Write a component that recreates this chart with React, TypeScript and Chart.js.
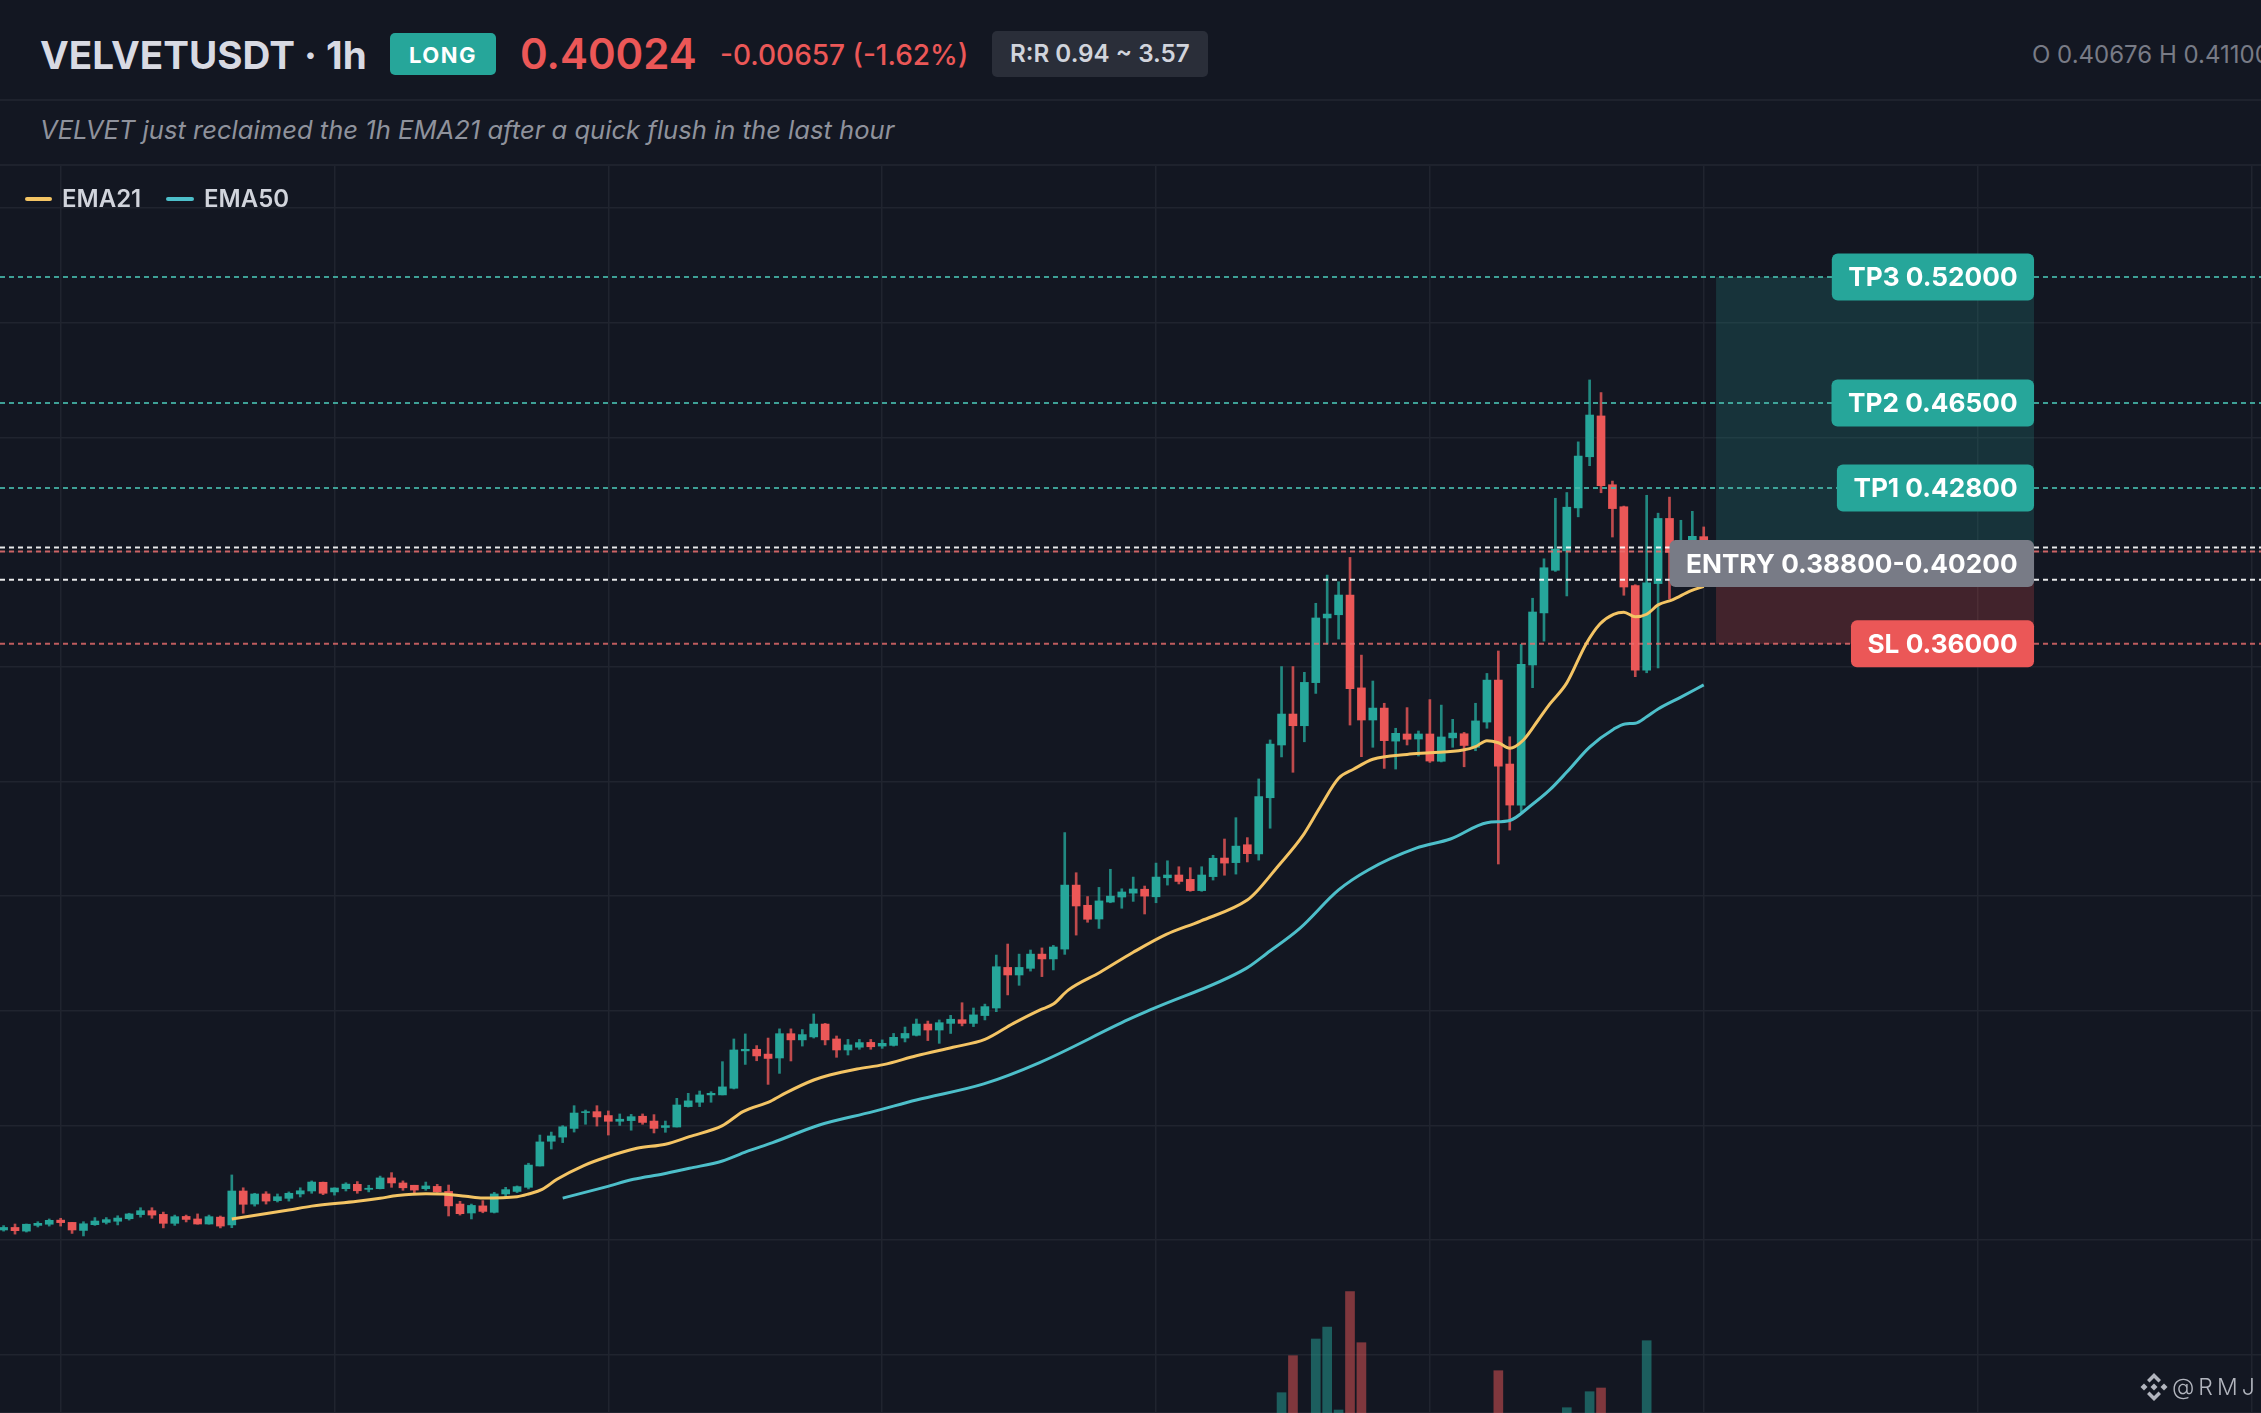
import React, { useEffect, useRef } from "react";
import { Chart, registerables } from "chart.js";

Chart.register(...registerables);

const opens = [
  .1044,.1055,.1039,.1064,.1069,.1087,.1077,.1042,.1067,.1077,
  .1082,.1093,.1111,.1128,.1112,.1073,.1103,.1092,.1070,.1100,
  .1066,.1214,.1157,.1201,.1172,.1182,.1201,.1214,.1252,.1210,
  .1224,.1243,.1221,.1224,.1271,.1249,.1239,.1224,.1234,.1212,
  .1157,.1118,.1149,.1121,.1201,.1212,.1230,.1323,.1431,.1449,
  .1487,.1556,.1560,.1543,.1518,.1521,.1540,.1519,.1491,.1493,
  .1582,.1601,.1633,.1633,.1662,.1825,.1832,.1811,.1794,.1900,
  .1873,.1886,.1942,.1877,.1829,.1841,.1862,.1846,.1849,.1881,
  .1893,.1942,.1916,.1945,.1961,.1945,.1979,.2012,.2189,.2156,
  .2185,.2247,.2226,.2269,.2548,.2460,.2400,.2474,.2496,.2513,
  .2530,.2497,.2580,.2592,.2573,.2524,.2585,.2666,.2646,.2724,
  .2684,.2929,.3159,.3294,.3243,.3431,.3713,.3727,.3813,.3408,
  .3268,.3320,.3176,.3207,.3185,.3207,.3088,.3190,.3208,.3149,
  .3259,.3442,.3076,.2897,.3508,.3735,.3921,.4006,.4193,.4416,
  .4594,.4294,.4198,.3854,.3485,.3863,.4147,.3960,.4020,.40676,
];
const closes = [
  .1055,.1041,.1069,.1073,.1086,.1076,.1044,.1071,.1083,.1089,
  .1096,.1114,.1128,.1109,.1073,.1102,.1090,.1070,.1102,.1061,
  .1214,.1156,.1201,.1170,.1189,.1204,.1215,.1253,.1204,.1227,
  .1244,.1215,.1226,.1271,.1249,.1228,.1218,.1236,.1210,.1149,
  .1115,.1151,.1125,.1201,.1220,.1233,.1327,.1428,.1454,.1494,
  .1554,.1560,.1537,.1518,.1527,.1538,.1513,.1487,.1499,.1589,
  .1607,.1633,.1640,.1668,.1829,.1832,.1803,.1792,.1900,.1873,
  .1896,.1942,.1873,.1829,.1851,.1861,.1843,.1858,.1884,.1901,
  .1942,.1916,.1948,.1963,.1945,.1982,.2018,.2192,.2156,.2189,
  .2247,.2226,.2278,.2548,.2457,.2399,.2479,.2500,.2518,.2531,
  .2500,.2583,.2592,.2564,.2524,.2592,.2665,.2644,.2718,.2685,
  .2934,.3163,.3294,.3243,.3432,.3713,.3730,.3813,.3405,.3268,
  .3320,.3178,.3210,.3184,.3207,.3089,.3194,.3211,.3157,.3264,
  .3442,.3067,.2897,.3511,.3739,.3932,.4013,.4196,.4419,.4598,
  .4290,.4190,.3848,.3485,.3866,.4147,.3999,.4040,.4069,.40024,
];
const highs = [
  .1063,.1070,.1070,.1080,.1092,.1095,.1077,.1080,.1098,.1098,
  .1106,.1117,.1141,.1141,.1122,.1109,.1109,.1114,.1109,.1105,
  .1284,.1228,.1204,.1211,.1201,.1210,.1228,.1258,.1253,.1228,
  .1250,.1255,.1239,.1279,.1294,.1258,.1239,.1253,.1243,.1240,
  .1169,.1157,.1172,.1208,.1230,.1236,.1335,.1458,.1471,.1499,
  .1586,.1567,.1586,.1563,.1550,.1548,.1550,.1547,.1519,.1618,
  .1640,.1650,.1647,.1778,.1877,.1899,.1848,.1881,.1921,.1921,
  .1918,.1986,.1945,.1890,.1875,.1875,.1875,.1873,.1901,.1929,
  .1964,.1955,.1960,.1980,.2035,.2012,.2029,.2243,.2291,.2247,
  .2265,.2274,.2285,.2777,.2602,.2498,.2538,.2617,.2532,.2583,
  .2544,.2644,.2654,.2628,.2624,.2628,.2678,.2749,.2842,.2755,
  .3011,.3181,.3501,.3501,.3476,.3777,.3900,.3871,.3977,.3551,
  .3438,.3341,.3232,.3322,.3220,.3357,.3333,.3271,.3214,.3341,
  .3471,.3569,.3195,.3598,.3799,.3971,.4235,.4260,.4481,.4751,
  .4696,.4310,.4201,.3858,.4248,.4170,.4240,.4139,.4178,.41100,
];
const lows = [
  .1039,.1026,.1035,.1057,.1061,.1061,.1029,.1018,.1064,.1070,
  .1066,.1087,.1100,.1095,.1053,.1064,.1079,.1069,.1069,.1053,
  .1054,.1117,.1148,.1157,.1166,.1170,.1188,.1204,.1198,.1196,
  .1214,.1204,.1210,.1223,.1230,.1217,.1202,.1217,.1208,.1105,
  .1109,.1092,.1119,.1118,.1189,.1207,.1223,.1323,.1397,.1425,
  .1471,.1505,.1497,.1458,.1500,.1479,.1505,.1467,.1470,.1493,
  .1580,.1582,.1601,.1633,.1659,.1766,.1782,.1679,.1727,.1781,
  .1846,.1881,.1851,.1797,.1807,.1832,.1832,.1836,.1846,.1864,
  .1890,.1870,.1858,.1901,.1934,.1931,.1960,.1996,.2069,.2111,
  .2173,.2149,.2178,.2246,.2330,.2386,.2359,.2471,.2447,.2477,
  .2422,.2471,.2548,.2553,.2521,.2521,.2570,.2591,.2596,.2649,
  .2657,.2796,.3107,.3040,.3173,.3384,.3599,.3621,.3246,.3108,
  .3149,.3057,.3054,.3159,.3111,.3083,.3085,.3149,.3064,.3134,
  .3232,.2640,.2788,.2868,.3409,.3612,.3916,.3809,.4154,.4377,
  .4259,.4066,.3812,.3457,.3474,.3495,.3796,.3900,.3950,.39800,
];

const ema21Idx = [20,25,27,31,33,34.5,37,38.5,40.5,42,45,46,47.2,48.5,50.8,52.8,55.5,58,60.1,63,64.8,67.2,68.6,71,72.4,74.8,77.1,80,83.2,86,88.5,90.8,92,93.3,96.1,99,101.9,104.9,109,109.8,111.6,113.8,115.4,117,118.3,120,123,125,127.9,129,130,131,132,133.2,134.5,135.5,137,138.7,139.9,141.1,142,143,144,145,146.3,147.8,149];
const ema21Vals = [.1092,.1131,.1148,.1169,.1182,.1194,.1202,.1201,.1191,.1183,.1189,.1201,.1221,.1265,.1324,.1361,.1400,.1418,.1451,.1499,.1560,.1605,.1643,.1698,.1720,.1746,.1765,.1804,.1841,.1875,.1945,.2003,.2029,.2090,.2168,.2255,.2333,.2391,.2483,.2519,.2625,.2759,.2890,.3014,.3053,.3097,.3118,.3125,.3137,.3152,.3178,.3169,.3145,.3181,.3268,.3337,.3430,.3601,.3687,.3729,.3738,.3718,.3729,.3770,.3793,.3830,.3851];
const ema50Idx = [49,52.8,55.2,57.8,60.1,63,65.1,67.4,71.5,76.2,80,85.9,90.8,98.6,100.8,108.9,110.7,113.6,117,119.6,123.8,126.8,130,132,133.8,135.5,137,139,141.1,142.1,143,144,145,147,149];
const ema50Vals = [.1183,.1232,.1265,.1288,.1313,.1345,.1386,.1425,.1502,.1560,.1611,.1681,.1774,.1962,.2010,.2185,.2250,.2359,.2527,.2614,.2709,.2749,.2820,.2830,.2893,.2963,.3041,.3150,.3228,.3251,.3254,.3282,.3316,.3368,.3421];

const volumeIdx = [112,113,115,116,117,118,119,131,137,139,140,144];
const volumeVals = [203,573,740,860,30,1213,703,423,53,213,250,723];

const tp3 = 0.52;
const tp2 = 0.465;
const tp1 = 0.428;
const entryHigh = 0.402;
const entryLow = 0.388;
const stopLoss = 0.36;
const lastPrice = 0.40024;
const entryMid = 0.395;

const UP = "#26a69a";
const DOWN = "#eb5757";
const FONT = "Inter, sans-serif";

const tradeLabels = [
  { text: "TP3 0.52000", price: tp3, color: UP },
  { text: "TP2 0.46500", price: tp2, color: UP },
  { text: "TP1 0.42800", price: tp1, color: UP },
  { text: "ENTRY 0.38800-0.40200", price: entryMid, color: "#787b86" },
  { text: "SL 0.36000", price: stopLoss, color: DOWN },
];

const xMin = -0.3155;
const xMax = 197.84;
const zoneStart = 150.08;
const zoneEnd = 177.95;

const tradePlugin = {
  id: "tradePlugin",
  beforeDatasetsDraw(chart: any) {
    const { ctx, scales } = chart;
    const x0 = scales.x.getPixelForValue(zoneStart);
    const x1 = scales.x.getPixelForValue(zoneEnd);
    const yT = scales.y.getPixelForValue(tp3);
    const yM = scales.y.getPixelForValue(entryMid);
    const yS = scales.y.getPixelForValue(stopLoss);
    ctx.save();
    ctx.fillStyle = "rgba(38,166,154,0.2)";
    ctx.fillRect(x0, yT, x1 - x0, yM - yT);
    ctx.fillStyle = "rgba(239,83,80,0.22)";
    ctx.fillRect(x0, yM, x1 - x0, yS - yM);
    ctx.restore();
  },
  afterDatasetsDraw(chart: any) {
    const { ctx, scales } = chart;
    const right = scales.x.getPixelForValue(zoneEnd);
    ctx.save();
    ctx.font = `700 26.2px ${FONT}`;
    ctx.textBaseline = "middle";
    ctx.textAlign = "left";
    for (const l of tradeLabels) {
      const y = scales.y.getPixelForValue(l.price);
      const w = ctx.measureText(l.text).width + 33;
      ctx.fillStyle = l.color;
      ctx.beginPath();
      ctx.roundRect(right - w, y - 23.5, w, 47, 6);
      ctx.fill();
      ctx.fillStyle = "#ffffff";
      ctx.fillText(l.text, right - w + 16.5, y + 1);
    }
    ctx.restore();
  },
};

const hLine = (price: number, color: string) => ({
  type: "line" as const,
  data: [{ x: xMin, y: price }, { x: xMax, y: price }],
  borderColor: color,
  borderWidth: 2,
  borderDash: [5, 4],
  pointRadius: 0,
  order: 3,
});

function Text({ style, children }: { style: React.CSSProperties; children: React.ReactNode }) {
  return (
    <div style={{ position: "absolute", whiteSpace: "nowrap", fontFamily: FONT, lineHeight: 1, ...style }}>{children}</div>
  );
}

function Box({ style }: { style: React.CSSProperties }) {
  return <div style={{ position: "absolute", ...style }} />;
}

export default function App() {
  const ref = useRef<HTMLCanvasElement>(null);
  useEffect(() => {
    document.body.style.margin = "0";
    document.body.style.background = "#131722";
    const candleColor = (i: number) => (closes[i] >= opens[i] ? UP : DOWN);
    const chart = new Chart(ref.current!, {
      type: "bar",
      data: {
        datasets: [
          {
            label: "Volume",
            yAxisID: "vol",
            grouped: false,
            barThickness: 9,
            data: volumeIdx.map((x, k) => ({ x, y: volumeVals[k] })),
            backgroundColor: volumeIdx.map((i) => candleColor(i) + "80"),
            order: 6,
          },
          {
            label: "Wicks",
            grouped: false,
            barThickness: 2,
            data: opens.map((_, i) => ({ x: i, y: [lows[i], highs[i]] })),
            backgroundColor: opens.map((_, i) => candleColor(i) + "cc"),
            order: 5,
          },
          {
            label: "Bodies",
            grouped: false,
            barThickness: 8,
            data: opens.map((_, i) => ({ x: i, y: [opens[i], closes[i]] })),
            backgroundColor: opens.map((_, i) => candleColor(i)),
            order: 4,
          },
          hLine(tp3, "rgba(70,185,170,0.85)"),
          hLine(tp2, "rgba(70,185,170,0.85)"),
          hLine(tp1, "rgba(70,185,170,0.85)"),
          hLine(entryHigh, "rgba(255,255,255,0.9)"),
          hLine(lastPrice, "rgba(235,110,110,0.85)"),
          hLine(entryLow, "rgba(255,255,255,0.9)"),
          hLine(stopLoss, "rgba(235,110,110,0.8)"),
          {
            type: "line",
            label: "EMA21",
            data: ema21Idx.map((x, k) => ({ x, y: ema21Vals[k] })),
            borderColor: "#f4c464",
            borderWidth: 3,
            pointRadius: 0,
            cubicInterpolationMode: "monotone",
            order: 2,
          },
          {
            type: "line",
            label: "EMA50",
            data: ema50Idx.map((x, k) => ({ x, y: ema50Vals[k] })),
            borderColor: "#4dbfca",
            borderWidth: 3,
            pointRadius: 0,
            cubicInterpolationMode: "monotone",
            order: 1,
          },
        ] as any,
      },
      options: {
        animation: false,
        responsive: false,
        events: [],
        layout: { padding: 0 },
        plugins: { legend: { display: false }, tooltip: { enabled: false } },
        scales: {
          x: {
            type: "linear",
            min: xMin,
            max: xMax,
            offset: false,
            afterBuildTicks(axis: any) {
              const t = [];
              for (let v = 5; v < xMax; v += 24) t.push({ value: v });
              axis.ticks = t;
            },
            ticks: { display: false, autoSkip: false },
            border: { display: false },
            grid: { color: "#20242f", lineWidth: 1.5, drawTicks: false, offset: false },
          },
          y: {
            type: "linear",
            min: 0.02458,
            max: 0.56884,
            ticks: { display: false, stepSize: 0.05 },
            border: { display: false },
            grid: { color: "#20242f", lineWidth: 1.5, drawTicks: false },
          },
          vol: {
            type: "linear",
            display: false,
            min: 0,
            max: 12480,
            grid: { display: false },
          },
        },
      } as any,
      plugins: [tradePlugin],
    });
    return () => chart.destroy();
  }, []);

  return (
    <div style={{ position: "absolute", left: 0, top: 0, width: 2261, height: 1413, overflow: "hidden", background: "#131722" }}>
      <canvas ref={ref} width={2261} height={1248} style={{ position: "absolute", left: 0, top: 165, width: 2261, height: 1248 }} />

      <Box style={{ left: 0, top: 99, width: 2261, height: 2, background: "#1e222d" }} />
      <Box style={{ left: 0, top: 164, width: 2261, height: 2, background: "#1e222d" }} />

      <Text style={{ left: 40, top: 36, fontSize: 38.6, fontWeight: 700, color: "#d8dae3" }}>VELVETUSDT · 1h</Text>
      <Box style={{ left: 390, top: 33, width: 106, height: 42, borderRadius: 5, background: "#26a69a" }} />
      <Text style={{ left: 390, width: 106, textAlign: "center", top: 44, fontSize: 22, fontWeight: 700, letterSpacing: 1.5, color: "#ffffff" }}>LONG</Text>
      <Text style={{ left: 520, top: 33, fontSize: 42, fontWeight: 600, color: DOWN }}>0.40024</Text>
      <Text style={{ left: 720, top: 41, fontSize: 28, fontWeight: 500, color: DOWN }}>-0.00657 (-1.62%)</Text>
      <Box style={{ left: 992, top: 31, width: 216, height: 46, borderRadius: 5, background: "#2a2e39" }} />
      <Text style={{ left: 1010, top: 42, fontSize: 24.2, fontWeight: 600, color: "#d1d4dc" }}>R:R 0.94 ~ 3.57</Text>
      <Text style={{ left: 2032, top: 43, fontSize: 24, fontWeight: 400, color: "#787b86" }}>O 0.40676 H 0.41100 L 0.39800 C 0.40024</Text>

      <Text style={{ left: 40, top: 117, fontSize: 25.6, fontStyle: "italic", color: "#8f929c" }}>VELVET just reclaimed the 1h EMA21 after a quick flush in the last hour</Text>

      <Box style={{ left: 25, top: 197, width: 27, height: 4, borderRadius: 2, background: "#f4c464" }} />
      <Text style={{ left: 62, top: 187, fontSize: 24, fontWeight: 600, color: "#d1d4dc" }}>EMA21</Text>
      <Box style={{ left: 166, top: 197, width: 28, height: 4, borderRadius: 2, background: "#4dbfca" }} />
      <Text style={{ left: 204, top: 187, fontSize: 24, fontWeight: 600, color: "#d1d4dc" }}>EMA50</Text>

      <svg style={{ position: "absolute", left: 2140, top: 1373 }} width="28" height="28" viewBox="0 0 28 28">
        <g fill="#b2b5be">
          <path d="M14 0 L21 7 L18.5 9.5 L14 5 L9.5 9.5 L7 7 Z" />
          <path d="M14 28 L21 21 L18.5 18.5 L14 23 L9.5 18.5 L7 21 Z" />
          <path d="M4 10.5 L7.5 14 L4 17.5 L0.5 14 Z" />
          <path d="M24 10.5 L27.5 14 L24 17.5 L20.5 14 Z" />
          <path d="M14 10.5 L17.5 14 L14 17.5 L10.5 14 Z" />
        </g>
      </svg>
      <Text style={{ left: 2172, top: 1376, fontSize: 23, fontWeight: 300, letterSpacing: 4, color: "#b2b5be" }}>@RMJ</Text>
    </div>
  );
}
